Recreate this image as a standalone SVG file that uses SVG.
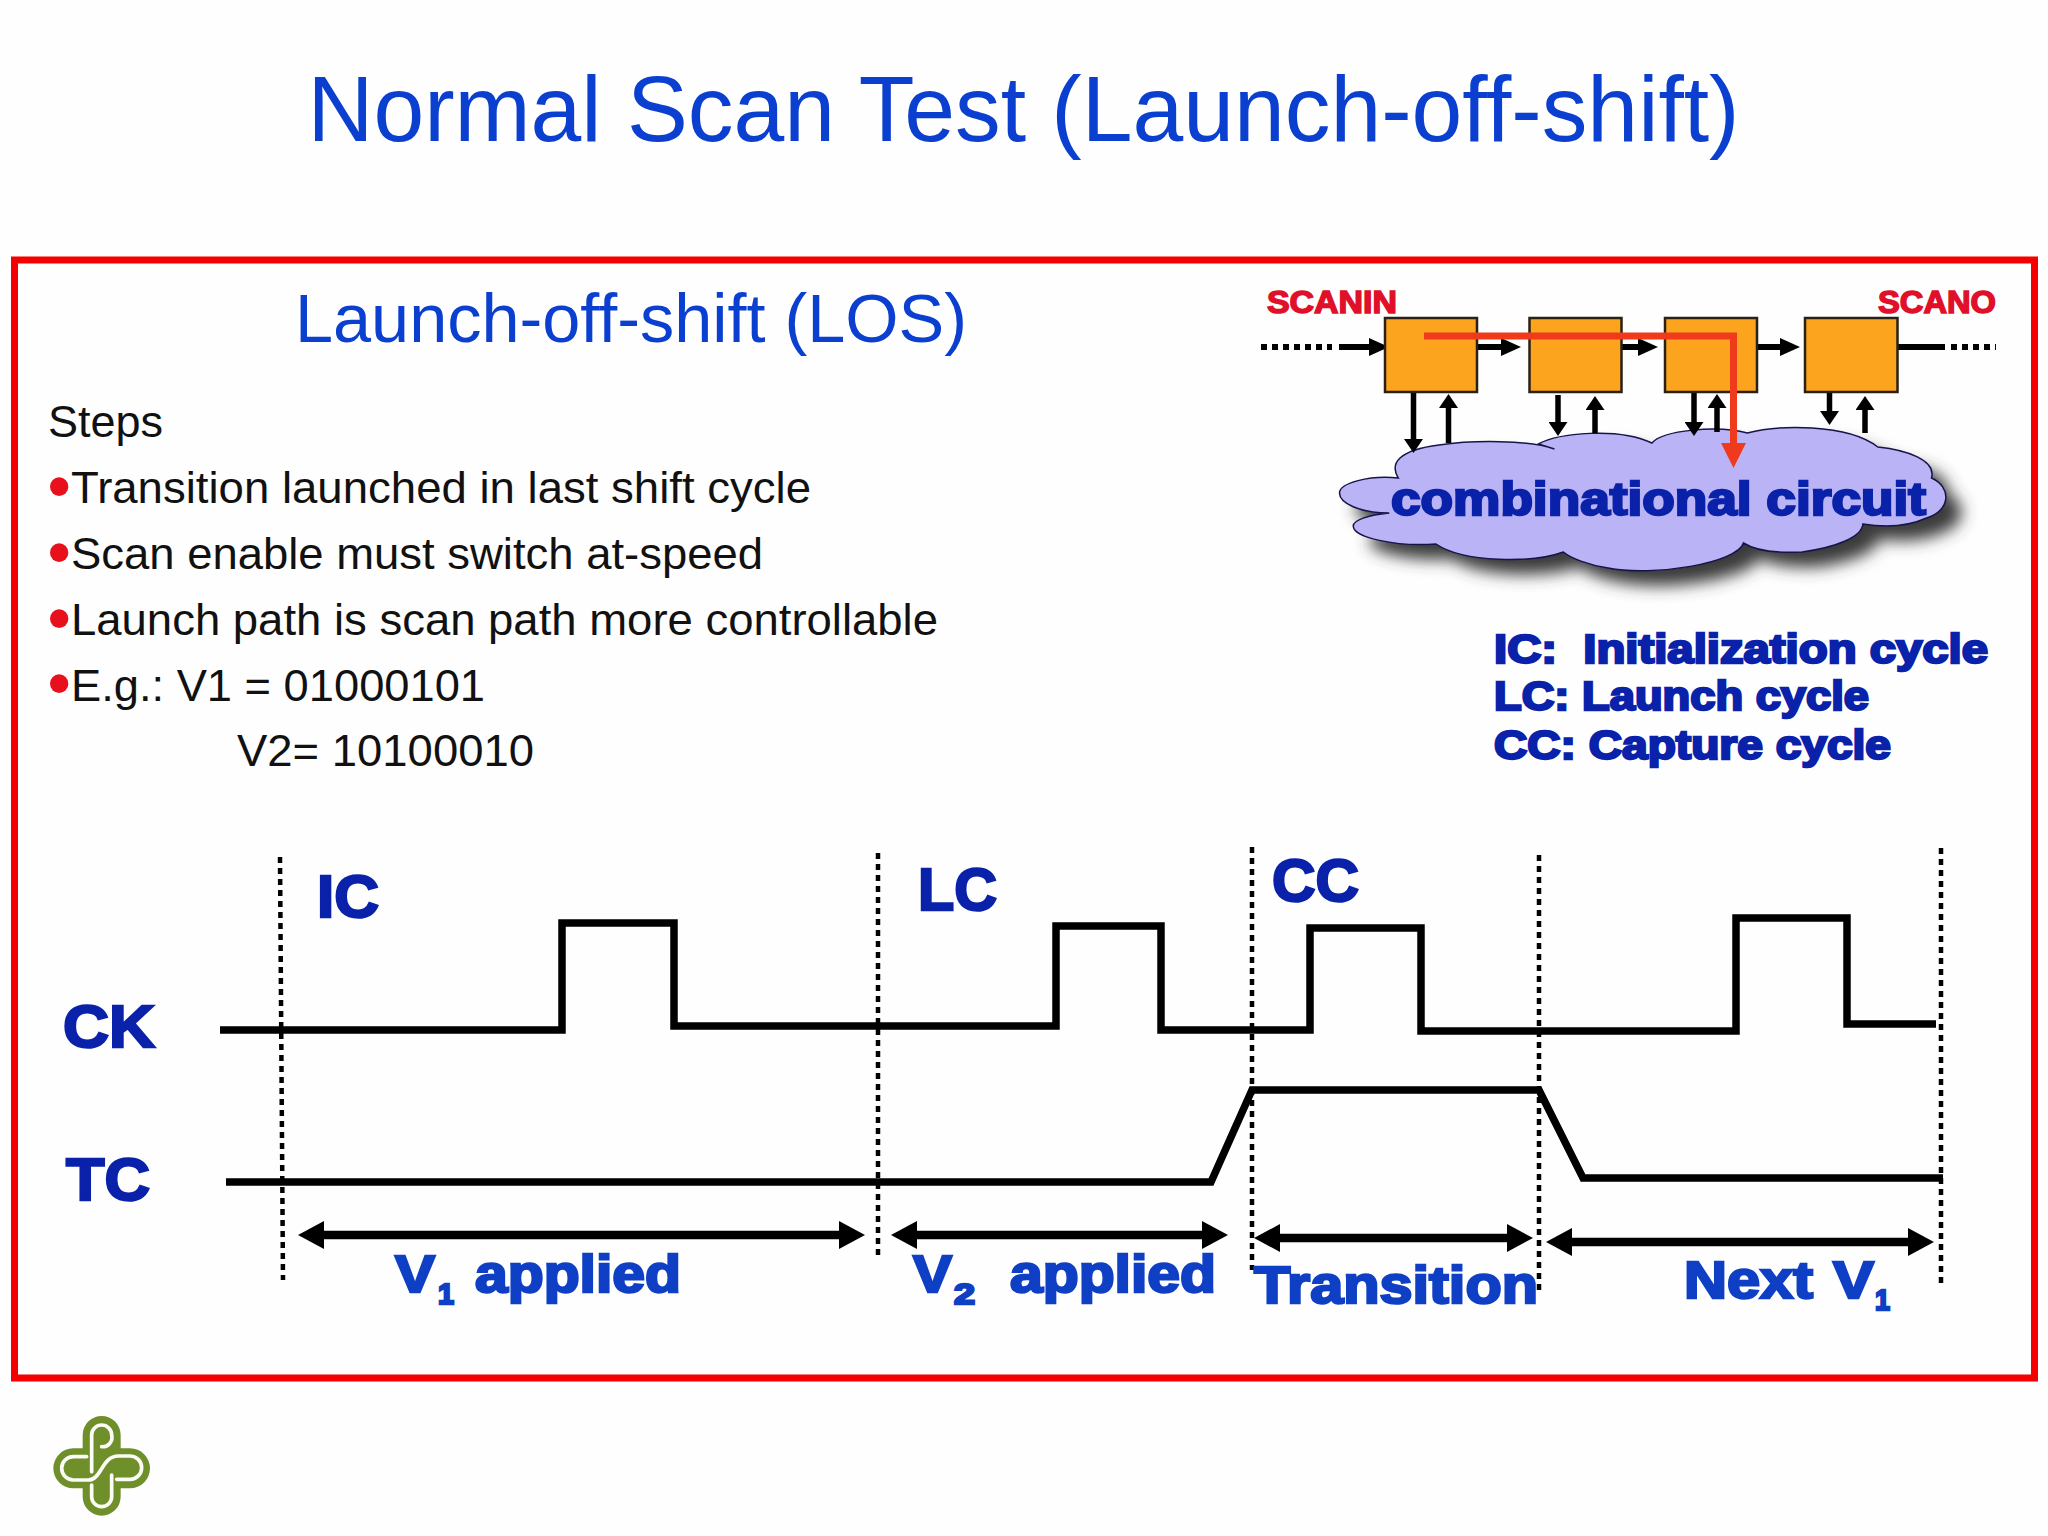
<svg xmlns="http://www.w3.org/2000/svg" width="2048" height="1536" viewBox="0 0 2048 1536">
<style>
text{font-family:"Liberation Sans",Arial,sans-serif}
.slide{fill:#0b3fd0}
.body{font-size:45px;fill:#111}
.bul{fill:#e8101c;font-size:64px;font-weight:700}
.hv{font-weight:700;fill:#0a22aa;stroke:#0a22aa;stroke-width:2.4px}
.hb{font-weight:700;fill:#0e3fc4;stroke:#0e3fc4;stroke-width:2.4px}
.red{font-weight:700;fill:#e0102a;stroke:#e0102a;stroke-width:1.5px;font-size:31px}
.ff{fill:#fca41e;stroke:#2a2015;stroke-width:2.5}
.wave{fill:none;stroke:#000;stroke-width:7.5;stroke-linejoin:miter}
.div{fill:none;stroke:#000;stroke-width:4.5;stroke-dasharray:6 5}
.big{fill:none;stroke:#000;stroke-width:8.5;marker-start:url(#bigHead);marker-end:url(#bigHead)}
.v{fill:none;stroke:#000;stroke-width:5.5;marker-end:url(#smallHead)}
.h{fill:none;stroke:#000;stroke-width:6;marker-end:url(#chainHead)}
.dot{fill:none;stroke:#000;stroke-width:6;stroke-dasharray:6 5}
</style>
<defs>
<marker id="bigHead" markerUnits="userSpaceOnUse" markerWidth="26" markerHeight="28" refX="2" refY="14" orient="auto-start-reverse" viewBox="0 0 26 28"><path d="M0,0L26,14L0,28Z" fill="#000"/></marker>
<marker id="smallHead" markerUnits="userSpaceOnUse" markerWidth="14" markerHeight="19" refX="1" refY="9.500" orient="auto" viewBox="0 0 14 19"><path d="M0,0L14,9.500L0,19Z" fill="#000"/></marker>
<marker id="chainHead" markerUnits="userSpaceOnUse" markerWidth="20" markerHeight="18" refX="1" refY="9" orient="auto" viewBox="0 0 20 18"><path d="M0,0L20,9L0,18Z" fill="#000"/></marker>
<marker id="redHead" markerUnits="userSpaceOnUse" markerWidth="25" markerHeight="25" refX="1" refY="12.500" orient="auto" viewBox="0 0 25 25"><path d="M0,0L25,12.500L0,25Z" fill="#f03a1c"/></marker>
<filter id="soft" x="-10%" y="-20%" width="120%" height="140%"><feGaussianBlur stdDeviation="8"/></filter>
<path id="cloudShape" d="M1399,478C1390,463 1400,450 1440,445C1475,440 1530,440 1556,449L1540,444C1560,433 1620,427 1654,443C1665,430 1720,425 1750,433C1780,425 1850,423 1881,447C1910,450 1940,460 1935,478C1955,487 1955,510 1930,518C1910,527 1885,527 1866,524C1865,537 1840,547 1805,552C1785,553 1760,552 1746,543C1740,563 1655,577 1610,568C1590,565 1572,558 1565,552C1535,563 1465,563 1437,544C1395,547 1355,537 1354,527C1352,520 1370,515 1390,513C1360,513 1340,503 1340,493C1340,483 1370,475 1399,478Z"/>
</defs>
<rect width="2048" height="1536" fill="#fefefe"/>

<g id="title"><text class="slide" x="1023.500" y="141" font-size="92" text-anchor="middle" textLength="1432" lengthAdjust="spacingAndGlyphs">Normal Scan Test (Launch-off-shift)</text></g>
<rect id="frame" x="14.500" y="260" width="2020" height="1118" fill="none" stroke="#f40000" stroke-width="7"/>

<g id="steps">
<text class="slide" x="295" y="342" font-size="69" textLength="672" lengthAdjust="spacingAndGlyphs">Launch-off-shift (LOS)</text>
<text class="body" x="48" y="437">Steps</text>
<text x="48" y="508" class="bul">•</text><text class="body" x="71" y="503" textLength="740" lengthAdjust="spacingAndGlyphs">Transition launched in last shift cycle</text>
<text x="48" y="574" class="bul">•</text><text class="body" x="71" y="569" textLength="692" lengthAdjust="spacingAndGlyphs">Scan enable must switch at-speed</text>
<text x="48" y="640" class="bul">•</text><text class="body" x="71" y="635" textLength="867" lengthAdjust="spacingAndGlyphs">Launch path is scan path more controllable</text>
<text x="48" y="705" class="bul">•</text><text class="body" x="71" y="701" textLength="414" lengthAdjust="spacingAndGlyphs">E.g.: V1 = 01000101</text>
<text class="body" x="237" y="766" textLength="297" lengthAdjust="spacingAndGlyphs">V2= 10100010</text>
</g>

<g id="cloud">
<use href="#cloudShape" transform="translate(22,15) scale(.995 1)" fill="#3a3a3a" filter="url(#soft)"/>
<use href="#cloudShape" transform="translate(6.200,0) scale(.995 1)" fill="#bab4f6" stroke="#15154a" stroke-width="1.5"/>
<text class="hv" x="1391" y="515" font-size="46" textLength="535" lengthAdjust="spacingAndGlyphs">combinational circuit</text>
</g>

<g id="connectors">
<path class="dot" d="M1261,347H1332"/>
<path class="h" d="M1339,347H1370"/>
<path class="h" d="M1477,347H1502"/>
<path class="h" d="M1622,347H1639"/>
<path class="h" d="M1757,347H1781"/>
<path fill="none" stroke="#000" stroke-width="6" d="M1897,347H1945"/>
<path class="dot" d="M1951,347H1996"/>
<path class="v" d="M1413.500,393V440"/>
<path class="v" d="M1448.500,443V407"/>
<path class="v" d="M1558,395V423"/>
<path class="v" d="M1595,433V409"/>
<path class="v" d="M1694,393V423"/>
<path class="v" d="M1717,432V407"/>
<path class="v" d="M1829.500,393V412"/>
<path class="v" d="M1865,433V409"/>
</g>

<g id="ff1"><rect class="ff" x="1385" y="318" width="92" height="74"/></g>
<g id="ff2"><rect class="ff" x="1529.500" y="318" width="92" height="74"/></g>
<g id="ff3"><rect class="ff" x="1665" y="318" width="92" height="74"/></g>
<g id="ff4"><rect class="ff" x="1805" y="318" width="92.500" height="74"/></g>

<g id="scanPath">
<path d="M1424,336H1733.500V444" fill="none" stroke="#f03a1c" stroke-width="7" marker-end="url(#redHead)"/>
</g>

<g id="scanLabels">
<text class="red" x="1267" y="313" textLength="130" lengthAdjust="spacingAndGlyphs">SCANIN</text>
<text class="red" x="1878" y="313" textLength="118" lengthAdjust="spacingAndGlyphs">SCANO</text>
</g>

<g id="legend" font-size="40">
<text class="hv" x="1494" y="663" textLength="494" lengthAdjust="spacingAndGlyphs" xml:space="preserve">IC:  Initialization cycle</text>
<text class="hv" x="1494" y="710" textLength="375" lengthAdjust="spacingAndGlyphs">LC: Launch cycle</text>
<text class="hv" x="1494" y="759" textLength="397" lengthAdjust="spacingAndGlyphs">CC: Capture cycle</text>
</g>

<g id="timing">
<path class="div" d="M280,857L283,1280"/>
<path class="div" d="M878,853V1255"/>
<path class="div" d="M1252,847V1270"/>
<path class="div" d="M1539,855V1290"/>
<path class="div" d="M1941,848V1283"/>
<path id="ck" class="wave" d="M220,1030H562V923H674V1026H1056V926H1161V1030H1310V928H1421V1031H1736V918H1847V1024H1936"/>
<path id="tc" class="wave" d="M226,1182H1211L1252,1090H1539L1583,1178H1943"/>
<path class="big" d="M322,1235H841"/>
<path class="big" d="M915,1235H1204"/>
<path class="big" d="M1278,1238H1509"/>
<path class="big" d="M1570,1242H1910"/>
</g>

<g id="timingLabels">
<text class="hv" x="317" y="917" font-size="60" textLength="62" lengthAdjust="spacingAndGlyphs">IC</text>
<text class="hv" x="918" y="910" font-size="60" textLength="79" lengthAdjust="spacingAndGlyphs">LC</text>
<text class="hv" x="1272" y="901" font-size="60" textLength="87" lengthAdjust="spacingAndGlyphs">CC</text>
<text class="hv" x="63" y="1047" font-size="60" textLength="92" lengthAdjust="spacingAndGlyphs">CK</text>
<text class="hv" x="66" y="1200" font-size="60" textLength="84" lengthAdjust="spacingAndGlyphs">TC</text>
<g font-size="51">
<text class="hb" x="395" y="1292" textLength="40" lengthAdjust="spacingAndGlyphs">V</text>
<text class="hb" x="438" y="1304" font-size="30" textLength="16" lengthAdjust="spacingAndGlyphs">1</text>
<text class="hb" x="475" y="1292" textLength="206" lengthAdjust="spacingAndGlyphs">applied</text>
<text class="hb" x="913" y="1292" textLength="39" lengthAdjust="spacingAndGlyphs">V</text>
<text class="hb" x="954" y="1304" font-size="30" textLength="21" lengthAdjust="spacingAndGlyphs">2</text>
<text class="hb" x="1010" y="1292" textLength="206" lengthAdjust="spacingAndGlyphs">applied</text>
<text class="hb" x="1254" y="1303" textLength="284" lengthAdjust="spacingAndGlyphs">Transition</text>
<text class="hb" x="1684" y="1298" textLength="129" lengthAdjust="spacingAndGlyphs">Next</text>
<text class="hb" x="1833" y="1298" textLength="41" lengthAdjust="spacingAndGlyphs">V</text>
<text class="hb" x="1875" y="1310" font-size="30" textLength="15" lengthAdjust="spacingAndGlyphs">1</text>
</g>
</g>

<g id="logo" transform="translate(30,1400) scale(.3333)">
<path d="M158,145V105A57,57 0 0 1 272,105V145H300A60,60 0 0 1 300,265H272V290A57,57 0 0 1 158,290V265H130A60,60 0 0 1 130,145Z" fill="#6f8f2a"/>
<g fill="none" stroke="#fbfcf6" stroke-width="11" stroke-linecap="round">
<path d="M185,215V105A30,30 0 0 1 245,105A28,28 0 0 1 215,140"/>
<path d="M245,225V290A30,30 0 0 1 185,290V255"/>
<path d="M170,170H130A35,35 0 0 0 130,240H175C215,240 215,168 265,168H300A35,35 0 0 1 300,238H260"/>
</g>
</g>
</svg>
